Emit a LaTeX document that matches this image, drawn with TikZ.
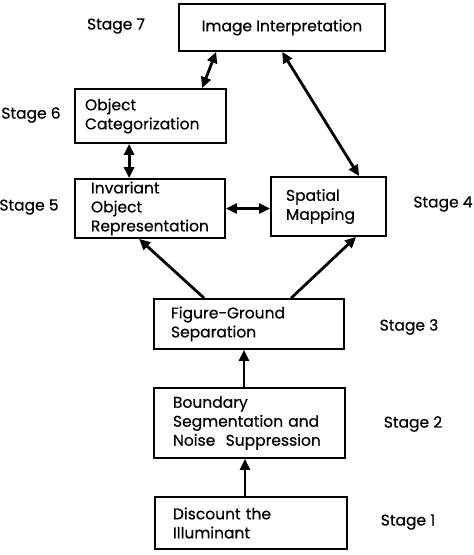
\documentclass[tikz,border=0pt]{standalone}
\usepackage{fontspec}
\setmainfont{Poppins}
\newfontfamily\diagfont{Poppins}[FakeBold=0.5]
\usetikzlibrary{arrows.meta,calc}
\tikzset{
  box/.style={draw, line width=1.8pt, rectangle, inner ysep=0pt, align=left,
    font=\diagfont\fontsize{15.5}{19}\selectfont},
  stage/.style={font=\diagfont\fontsize{15.5}{19}\selectfont, inner sep=0pt},
  conn/.style={line width=2.8pt, -{Triangle[length=11pt,width=10pt]}},
  biconn/.style={line width=2.8pt, {Triangle[length=11pt,width=10pt]}-{Triangle[length=11pt,width=10pt]}}
}
\begin{document}
\begin{tikzpicture}[x=1pt,y=-1pt]
\useasboundingbox (0,0) rectangle (474,555);
% boxes
\node[box, align=center, minimum width=206pt, minimum height=47pt] (ii) at (282,27.5) {Image Interpretation};
\node[box, inner xsep=10pt, text width=131pt, minimum height=54pt] (oc) at (150.5,116) {Object\\Categorization};
\node[box, inner xsep=16pt, text width=118pt, minimum height=59pt] (inv) at (150,208.5) {Invariant\\Object\\Representation};
\node[box, inner xsep=15pt, text width=85pt, minimum height=59pt] (sm) at (328.5,206.5) {Spatial\\Mapping};
\node[box, inner xsep=17pt, text width=156pt, minimum height=50pt] (fg) at (249,324) {Figure-Ground\\Separation};
\node[box, inner xsep=19pt, text width=153pt, minimum height=70pt] (bd) at (249.5,423) {Boundary\\Segmentation and\\Noise\ \ Suppression};
\node[box, inner xsep=18pt, text width=156pt, minimum height=52pt] (dc) at (251,523) {Discount the\\Illuminant};
% stage labels
\node[stage] (s7) at (116,26) {Stage 7};
\node[stage] (s6) at (31,115) {Stage 6};
\node[stage] (s5) at (29,207) {Stage 5};
\node[stage] (s4) at (443,204) {Stage 4};
\node[stage] (s3) at (409,327) {Stage 3};
\node[stage] (s2) at (413,424) {Stage 2};
\node[stage] (s1) at (408,522) {Stage 1};
% connectors
\draw[biconn] ($(oc.north west)+(128pt,0)$) -- ($(ii.south west)+(38pt,0)$);
\draw[biconn] ($(ii.south west)+(104pt,0)$) -- ($(sm.north west)+(89pt,0)$);
\draw[biconn] ($(oc.south west)+(55pt,0)$) -- ($(inv.north west)+(55pt,0)$);
\draw[biconn] (inv.east) -- (inv.east -| sm.west);
\draw[conn] ($(fg.north west)+(51pt,0)$) -- ($(inv.south west)+(65pt,0)$);
\draw[conn] ($(fg.north west)+(138pt,0)$) -- ($(sm.south west)+(86pt,0)$);
\draw[conn] ($(bd.north)+(-5.5pt,0)$) -- ($(fg.south)+(-5pt,0)$);
\draw[conn] ($(dc.north)+(-6pt,0)$) -- ($(bd.south)+(-4.5pt,0)$);
\end{tikzpicture}
\end{document}
